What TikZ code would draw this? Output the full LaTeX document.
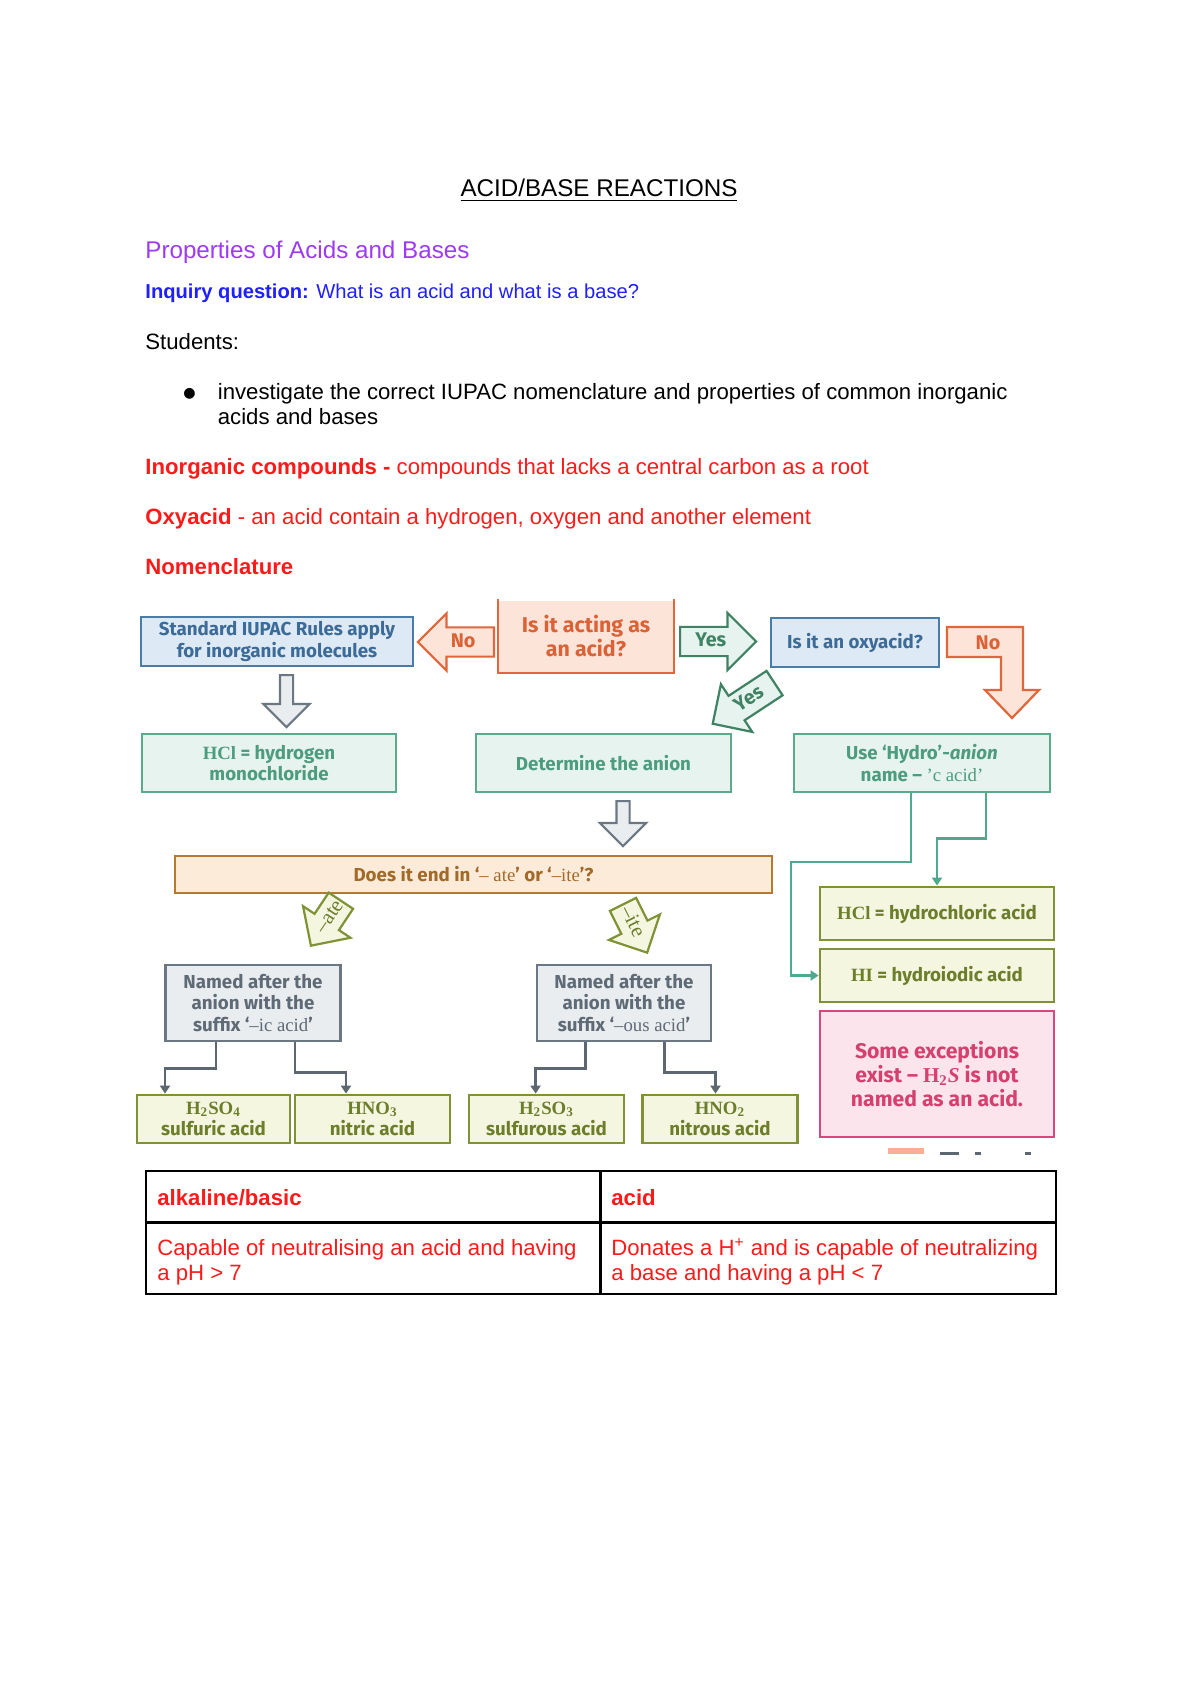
\documentclass[tikz,border=0pt]{standalone}
\usepackage{fontspec}
\setmainfont{Liberation Sans}
\newfontfamily\diagsans{Fira Sans}
\newfontfamily\diagserif{Liberation Serif}
\newfontfamily\symbolfont{DejaVu Sans}
\usetikzlibrary{shapes.arrows,arrows.meta}

\definecolor{headpurple}{HTML}{9D3AF2}
\definecolor{qblue}{HTML}{1F1FFF}
\definecolor{defred}{HTML}{FF1A1A}
\definecolor{bluefill}{HTML}{DDE9F4}
\definecolor{blueline}{HTML}{4A7CA8}
\definecolor{bluetext}{HTML}{3D6B98}
\definecolor{orangefill}{HTML}{FDE4D9}
\definecolor{orangeline}{HTML}{E0663B}
\definecolor{orangetext}{HTML}{DA6236}
\definecolor{greenfill}{HTML}{E7F3EE}
\definecolor{greenline}{HTML}{5BAA8C}
\definecolor{greentext}{HTML}{4E9C7F}
\definecolor{darkgreen}{HTML}{3F8264}
\definecolor{greyfill}{HTML}{EAEDF0}
\definecolor{greyline}{HTML}{6B7783}
\definecolor{greytext}{HTML}{5E6A75}
\definecolor{peachfill}{HTML}{FDEBDA}
\definecolor{peachline}{HTML}{B67A2E}
\definecolor{browntext}{HTML}{A26A28}
\definecolor{olivefill}{HTML}{F4F6E0}
\definecolor{oliveline}{HTML}{7F9336}
\definecolor{olivetext}{HTML}{6C7E2C}
\definecolor{pinkfill}{HTML}{FCE4ED}
\definecolor{pinkline}{HTML}{D9477C}
\definecolor{pinktext}{HTML}{D5406F}
\definecolor{teallink}{HTML}{4DA98F}
\definecolor{greylink}{HTML}{5C6772}
\definecolor{salmon}{HTML}{FDAF93}

\newcommand{\diagfont}{\diagsans\bfseries\fontsize{9.3}{10.5}\selectfont}
\newcommand{\fm}[1]{{\diagserif\bfseries #1}}
\newcommand{\fs}[1]{{\diagserif\mdseries #1}}

\begin{document}
\begin{tikzpicture}[x=0.4961pt, y=-0.4961pt,
    every node/.style={inner sep=0pt},
    bodytext/.style={anchor=base west, font=\fontsize{11}{13}\selectfont},
    boxsize/.style 2 args={minimum width=#1*0.4961pt, minimum height=#2*0.4961pt},
    box/.style={draw, line width=1.2pt, align=center, font=\diagfont},
    bluebox/.style={box, draw=blueline, fill=bluefill, text=bluetext},
    orangebox/.style={box, draw=orangeline, fill=orangefill, text=orangetext},
    greenbox/.style={box, draw=greenline, fill=greenfill, text=greentext},
    greybox/.style={box, draw=greyline, fill=greyfill, text=greytext},
    peachbox/.style={box, draw=peachline, fill=peachfill, text=browntext},
    olivebox/.style={box, draw=oliveline, fill=olivefill, text=olivetext, line width=1.4pt},
    pinkbox/.style={box, draw=pinkline, fill=pinkfill, text=pinktext},
    blockarrow/.style={single arrow, draw, line width=1.1pt, single arrow head extend=6.9pt,
      inner xsep=0pt, inner ysep=3.2pt, text height=6pt, text depth=1pt,
      font=\diagsans\bfseries\fontsize{9.8}{11}\selectfont},
    noarrow/.style={blockarrow, draw=orangeline, fill=orangefill, text=orangetext},
    yesarrow/.style={blockarrow, draw=darkgreen, fill=greenfill, text=darkgreen},
    olivearrow/.style={blockarrow, draw=oliveline, fill=olivefill, text=olivetext,
      font=\diagserif\fontsize{10.5}{11}\selectfont},
    greyarrow/.style={single arrow, draw=greyline, fill=greyfill, line width=1.1pt,
      single arrow head extend=8.2pt, inner xsep=0pt, inner ysep=2.73pt, text height=0pt, text depth=0pt},
    link/.style={line width=1.3pt, -{Triangle[length=4pt,width=5pt]}}
  ]
  \useasboundingbox (0,0) rectangle (1200,1696);
  \fill[white] (0,0) rectangle (1200,1696);

  % page text
  \node[anchor=base, font=\fontsize{12}{14}\selectfont] (title) at (599,197) {\underline{ACID/BASE REACTIONS}};
  \node[bodytext, text=headpurple, font=\fontsize{12}{14}\selectfont] (props) at (145,259) {Properties of Acids and Bases};
  \node[bodytext, text=qblue, font=\fontsize{10}{12}\selectfont] (inquiry) at (145,298) {\textbf{Inquiry question:} What is an acid and what is a base?};
  \node[bodytext] (students) at (145,349) {Students:};
  \node[bodytext, font=\symbolfont\fontsize{7}{8}\selectfont] (bullet) at (183,397) {●};
  \node[bodytext] (task1) at (217.5,399) {investigate the correct IUPAC nomenclature and properties of common inorganic};
  \node[bodytext] (task2) at (217.5,424) {acids and bases};
  \node[bodytext, text=defred] (inorg) at (145,474) {\textbf{Inorganic compounds -} compounds that lacks a central carbon as a root};
  \node[bodytext, text=defred] (oxyacid) at (145,524) {\textbf{Oxyacid} - an acid contain a hydrogen, oxygen and another element};
  \node[bodytext, text=defred] (nomen) at (145,574) {\textbf{Nomenclature}};

  % flow chart boxes
  \node[bluebox, boxsize={272}{49}] (iupac) at (277,641.5) {Standard IUPAC Rules apply\\for inorganic molecules};
  \node[orangebox, draw=none, boxsize={174}{71}, font=\diagsans\bfseries\fontsize{10.6}{12.2}\selectfont] (acting) at (586,636) {Is it acting as\\an acid?};
    \draw[orangeline, line width=1.2pt] (acting.north west) -- (acting.south west) -- (acting.south east) -- (acting.north east);
  \node[bluebox, boxsize={168}{49}] (oxy) at (855,642.5) {Is it an oxyacid?};
  \node[greenbox, boxsize={254}{58}] (hcl1) at (269,763) {\fm{HCl} = hydrogen\\monochloride};
  \node[greenbox, boxsize={255}{58}] (anion) at (603.5,763) {Determine the anion};
  \node[greenbox, boxsize={256}{58}] (hydro) at (922,763) {Use ‘Hydro’-\textit{anion}\\name – \fs{’c acid’}};
  \node[peachbox, boxsize={597}{37}] (ending) at (473.5,874.5) {Does it end in ‘\fs{– ate}’ or ‘\fs{–ite}’?};
  \node[greybox, boxsize={175}{76}] (ic) at (253,1003) {Named after the\\anion with the\\suffix ‘\fs{–ic acid}’};
  \node[greybox, boxsize={174}{76}] (ous) at (624,1003) {Named after the\\anion with the\\suffix ‘\fs{–ous acid}’};
  \node[olivebox, boxsize={153}{48}] (sulfuric) at (213.5,1119) {\fm{H\textsubscript{2}SO\textsubscript{4}}\\sulfuric acid};
  \node[olivebox, boxsize={155}{48}] (nitric) at (372.5,1119) {\fm{HNO\textsubscript{3}}\\nitric acid};
  \node[olivebox, boxsize={155}{48}] (sulfurous) at (546.5,1119) {\fm{H\textsubscript{2}SO\textsubscript{3}}\\sulfurous acid};
  \node[olivebox, boxsize={155}{48}] (nitrous) at (720,1119) {\fm{HNO\textsubscript{2}}\\nitrous acid};
  \node[olivebox, boxsize={234}{53}] (hcl2) at (937,913.5) {\fm{HCl} = hydrochloric acid};
  \node[olivebox, boxsize={234}{53}] (hi) at (937,975.5) {\fm{HI} = hydroiodic acid};
  \node[pinkbox, boxsize={234}{126}, font=\diagsans\bfseries\fontsize{10.5}{11.8}\selectfont] (except) at (937,1074) {Some exceptions\\exist – \fm{H\textsubscript{2}\textit{S}} is not\\named as an acid.};

  % block arrows
  \node[noarrow, shape border rotate=180, minimum height=76*0.4961pt, anchor=tail] (noleft) at (495,642) {No};
  \node[yesarrow, minimum height=76*0.4961pt, anchor=tail] (yesright) at (679,641.5) {Yes};
  \node[yesarrow, rotate=33.3, shape border rotate=180, minimum height=74*0.4961pt, anchor=tail] (yesdown) at (775.5,682.5) {Yes};
  \node[greyarrow, rotate=-90, minimum height=52*0.4961pt, anchor=tail] (downa) at (286.5,674) {};
  \node[greyarrow, rotate=-90, minimum height=45*0.4961pt, anchor=tail] (downb) at (623,800) {};
  \node[olivearrow, rotate=56.3, shape border rotate=180, minimum height=54*0.4961pt, anchor=tail] (atearrow) at (341.5,899.8) {–ate};
  \node[olivearrow, rotate=-63.4, minimum height=54*0.4961pt, anchor=tail] (itearrow) at (622.5,903.4) {–ite};
  \filldraw[draw=orangeline, fill=orangefill, line width=1.1pt] (947,627) -- (1023,627) -- (1023,690) -- (1039,690) -- (1012,718) -- (985,690) -- (1001,690) -- (1001,657) -- (947,657) -- cycle;
  \node[font=\diagsans\bfseries\fontsize{9.8}{11}\selectfont, text=orangetext] (nodown) at (988,643) {No};

  % connectors
  \coordinate (bendA) at (791,862);
  \draw[link, teallink] ([xshift=-5.46pt]hydro.south) |- (bendA) |- (hi.west);
  \draw[link, teallink] ([xshift=31.75pt]hydro.south) -- ++(0,45) -| (hcl2.north);
  \draw[link, greylink] ([xshift=-18.36pt]ic.south) -- ++(0,26) -| ([xshift=-24.06pt]sulfuric.north);
  \draw[link, greylink] ([xshift=20.84pt]ic.south) -- ++(0,30) -| ([xshift=-13.15pt]nitric.north);
  \draw[link, greylink] ([xshift=-19.15pt]ous.south) -- ++(0,26) -| ([xshift=-5.41pt]sulfurous.north);
  \draw[link, greylink] ([xshift=20pt]ous.south) -- ++(0,30) -| ([xshift=-2.23pt]nitrous.north);

  % cut-off strip under the chart
  \fill[salmon] (888,1148) rectangle (924,1154);
  \fill[greylink] (940,1152) rectangle (959,1155);
  \fill[greylink] (975,1151.5) rectangle (981,1154.5);
  \fill[greylink] (1025,1151.5) rectangle (1031,1154.5);

  % table
  \draw[line width=1.3pt] (146,1171) rectangle (1056,1294);
  \draw[line width=1.3pt] (146,1222.7) -- (1056,1222.7);
  \draw[line width=1.3pt] (600.5,1171) -- (600.5,1294);
  \node[bodytext, text=defred] (headbase) at (157,1205.5) {\textbf{alkaline/basic}};
  \node[bodytext, text=defred] (headacid) at (611,1205.5) {\textbf{acid}};
  \node[bodytext, text=defred] (basea) at (157,1255) {Capable of neutralising an acid and having};
  \node[bodytext, text=defred] (baseb) at (157,1280) {a pH > 7};
  \node[bodytext, text=defred] (acida) at (611,1255) {Donates a H\textsuperscript{+} and is capable of neutralizing};
  \node[bodytext, text=defred] (acidb) at (611,1280) {a base and having a pH < 7};
\end{tikzpicture}
\end{document}
